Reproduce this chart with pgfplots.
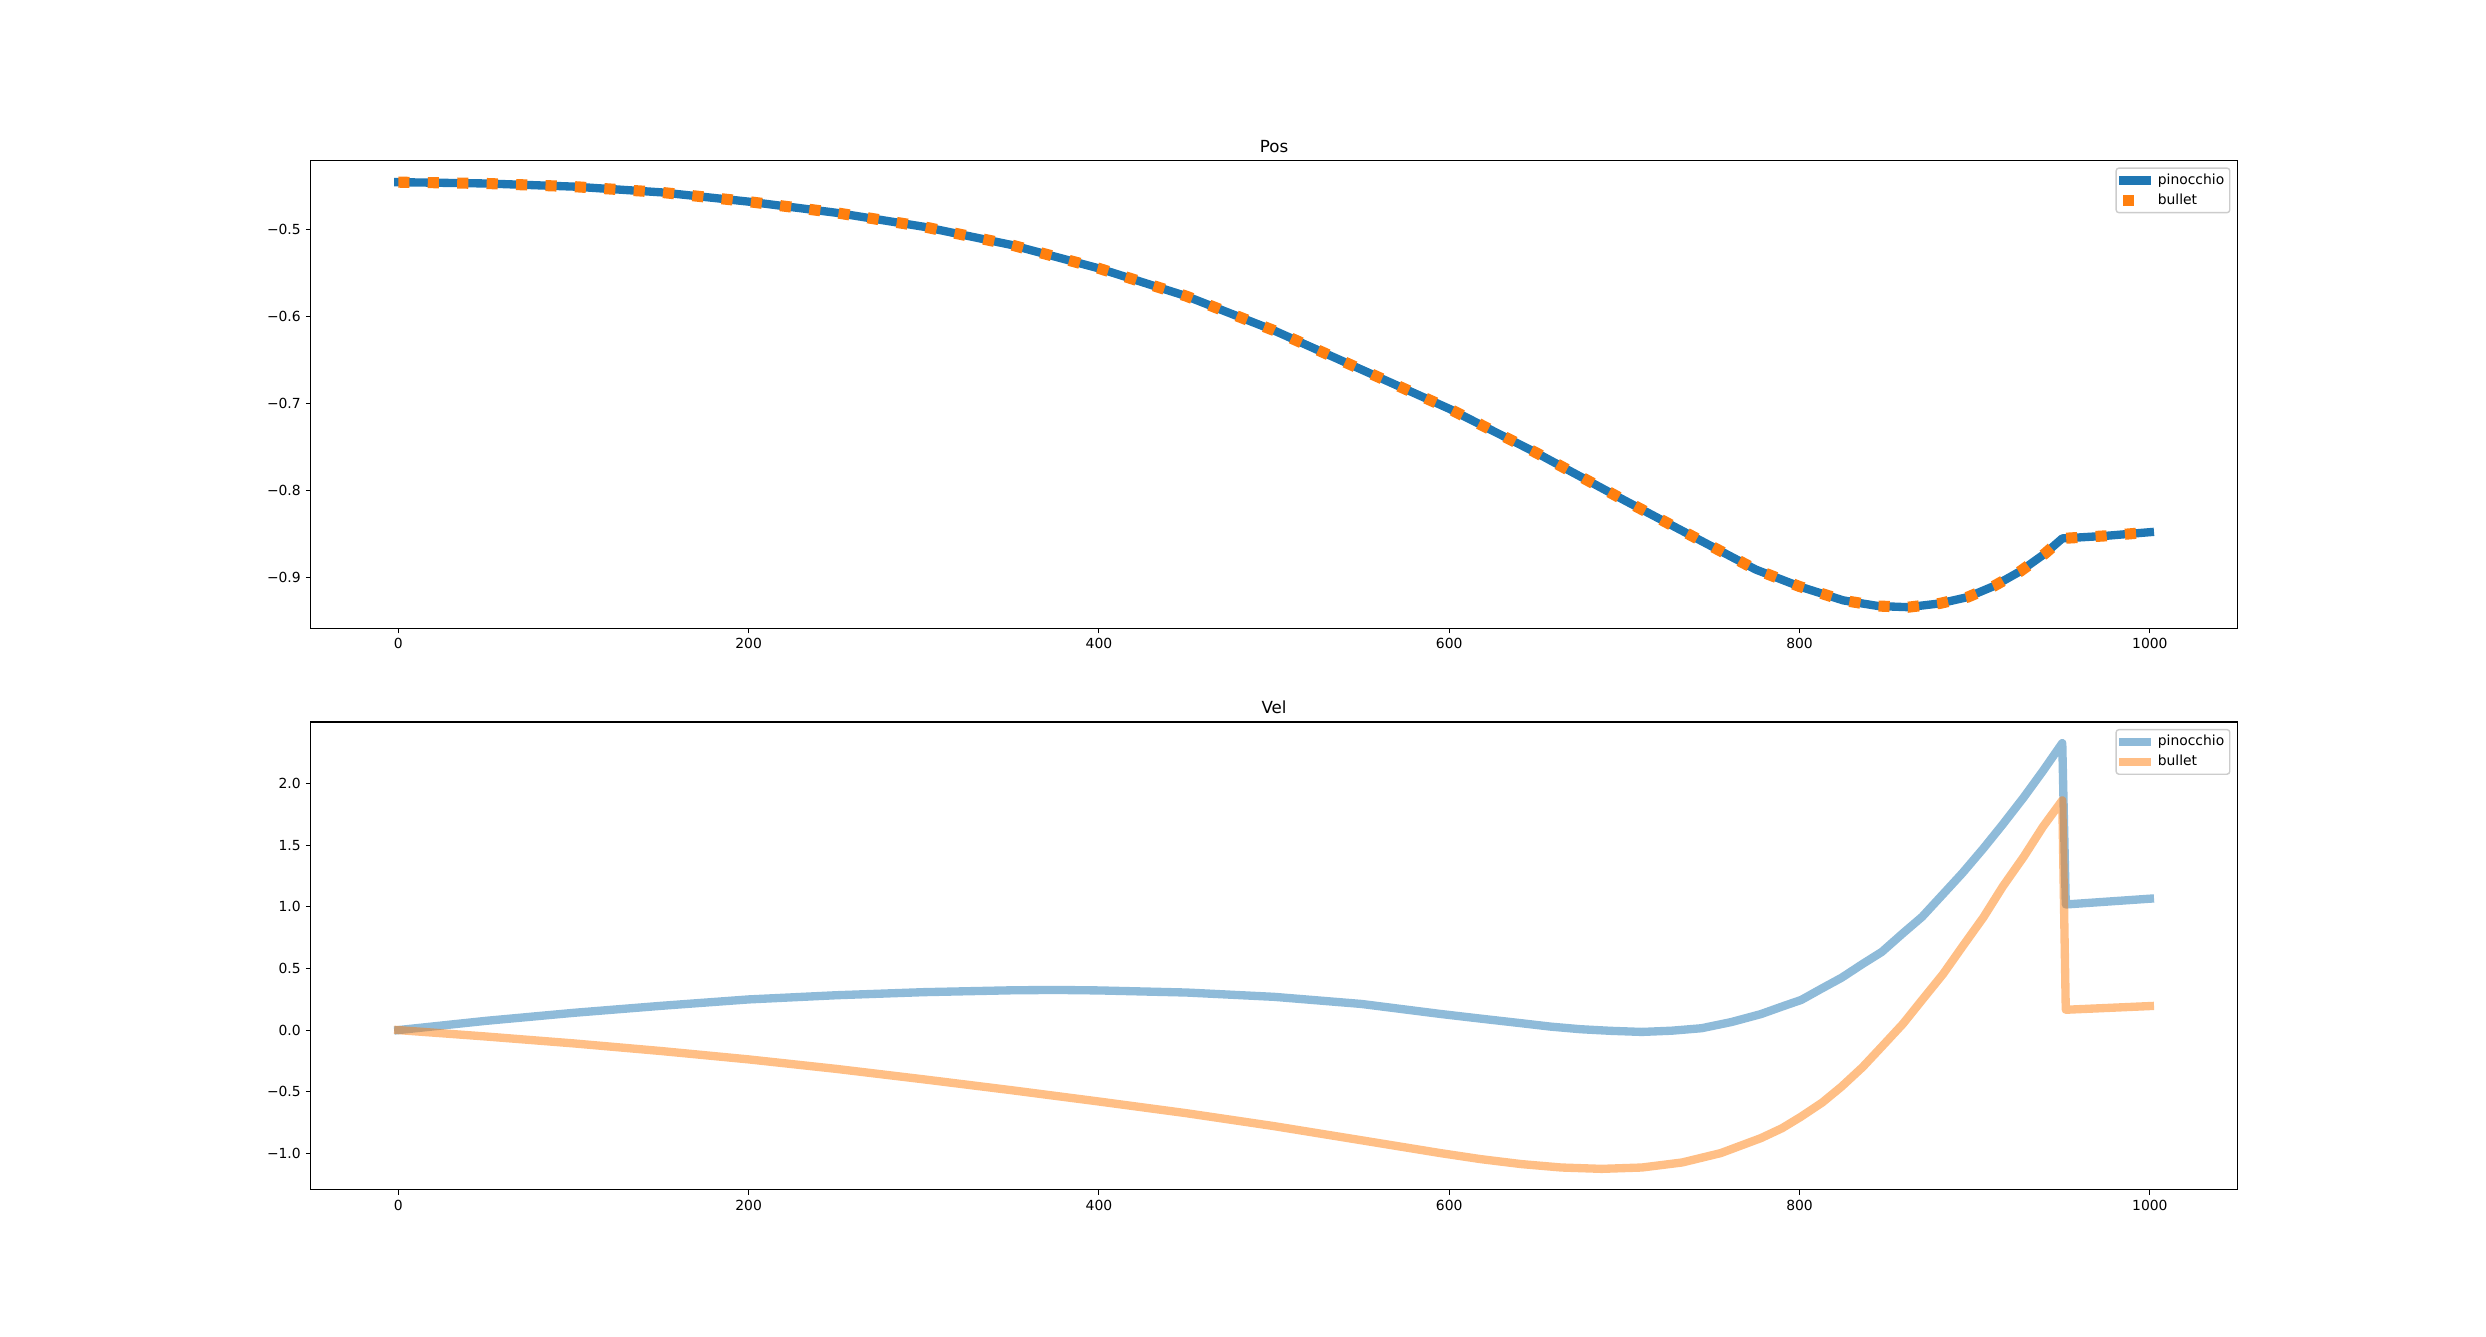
\documentclass[border=0pt]{standalone}
\usepackage{fontspec}
\setmainfont{DejaVu Sans}
\usepackage{pgfplots}
\usepackage{pgfplotstable}
\pgfplotsset{compat=1.18}

\definecolor{tabblue}{HTML}{1F77B4}
\definecolor{taborange}{HTML}{FF7F0E}
\definecolor{legedge}{rgb}{0.8,0.8,0.8}

% joint position (pinocchio and bullet give the same curve)
\pgfplotstableread{
x     pin      bul
0    -0.4453  -0.4453
50   -0.4468  -0.4468
100  -0.4504  -0.4504
150  -0.4570  -0.4570
200  -0.4677  -0.4677
250  -0.4805  -0.4805
300  -0.4966  -0.4966
350  -0.5175  -0.5175
400  -0.5445  -0.5445
450  -0.5765  -0.5765
500  -0.6160  -0.6160
550  -0.6610  -0.6610
600  -0.7060  -0.7060
650  -0.7570  -0.7570
700  -0.8113  -0.8113
750  -0.8645  -0.8645
775  -0.8910  -0.8910
800  -0.9105  -0.9105
825  -0.9265  -0.9265
845  -0.9330  -0.9330
862  -0.9343  -0.9343
880  -0.9300  -0.9300
896  -0.9227  -0.9227
911  -0.9100  -0.9100
926  -0.8930  -0.8930
940  -0.8728  -0.8728
950  -0.8552  -0.8552
975  -0.8522  -0.8522
1000 -0.8480  -0.8480
}\postable

% joint velocity, pinocchio
\pgfplotstableread{
x    v
0    0.000
50   0.075
100  0.140
150  0.197
200  0.249
250  0.283
300  0.308
350  0.323
375  0.326
400  0.322
450  0.305
500  0.270
550  0.212
595  0.131
618  0.093
641  0.056
658  0.028
675  0.007
692 -0.006
710 -0.015
727 -0.005
744  0.015
761  0.065
778  0.130
790  0.191
801  0.245
813  0.340
824  0.425
836  0.537
847  0.635
859  0.786
870  0.920
882  1.105
893  1.275
905  1.476
916  1.670
928  1.890
939  2.105
950  2.330
952  1.020
1000 1.067
}\velpin

% joint velocity, bullet
\pgfplotstableread{
x    v
0    0.000
50  -0.052
100 -0.108
150 -0.170
200 -0.238
250 -0.315
300 -0.400
350 -0.488
400 -0.580
450 -0.675
500 -0.780
550 -0.895
595 -0.999
618 -1.048
641 -1.088
664 -1.116
687 -1.127
710 -1.116
733 -1.075
755 -0.999
778 -0.877
790 -0.797
801 -0.702
813 -0.588
824 -0.459
836 -0.301
847 -0.134
859  0.050
870  0.245
882  0.456
893  0.678
905  0.916
916  1.165
928  1.408
939  1.652
950  1.865
952  0.165
1000 0.195
}\velbul

\pgfplotsset{
  mpl/.style={
    scale only axis, width=1387.19bp, height=336.92bp,
    xmin=-50, xmax=1050,
    xtick={0,200,...,1000},
    xticklabels={0,200,400,600,800,1000},
    tick pos=left,
    tick align=outside,
    major tick length=3.5bp,
    axis line style={line width=0.8bp},
    tick style={line width=0.8bp, black},
    ticklabel style={font=\fontsize{10bp}{12bp}\selectfont, inner sep=0pt},
    xticklabel shift=3.5bp, yticklabel shift=3.5bp,
    every axis title/.style={font=\fontsize{12bp}{14bp}\selectfont, anchor=base, at={(0.5,1)}, yshift=6bp, inner sep=0pt},
    legend cell align=left,
    legend image code/.code={\draw[##1, overlay] (3bp,0bp) -- (20bp,0bp); \path[draw=none] (2bp,0bp) -- (20bp,0bp);},
    legend style={
      at={(1,1)}, anchor=north east, xshift=-5bp, yshift=-5bp,
      draw=legedge, line width=1bp, rounded corners=2bp, fill=white,
      font=\fontsize{10bp}{12bp}\selectfont,
      inner xsep=4bp, inner ysep=4bp, row sep=4.7bp,
      nodes={inner xsep=0bp, inner ysep=0bp, text height=7.5bp, text depth=2.2bp},
      /tikz/every odd column/.style={column sep=8bp},
    },
  },
}

\begin{document}
\begin{tikzpicture}
\useasboundingbox (0,0) rectangle (1789.92bp,962.64bp);

\begin{axis}[mpl,
  at={(223.74bp,510.19bp)}, anchor=south west,
  title={Pos},
  ymin=-0.9587, ymax=-0.4203,
  ytick={-0.9,-0.8,-0.7,-0.6,-0.5},
  yticklabels={−0.9,−0.8,−0.7,−0.6,−0.5},
]
\addplot[tabblue, line width=6bp, line cap=rect, line join=round] table[x=x, y=pin] {\postable};
\addlegendentry{pinocchio}
\addplot[taborange, line width=8bp, line cap=butt, dash pattern=on 8bp off 13.2bp] table[x=x, y=bul] {\postable};
\addlegendentry{bullet}
\end{axis}

\begin{axis}[mpl,
  at={(223.74bp,105.89bp)}, anchor=south west,
  title={Vel},
  ymin=-1.298, ymax=2.502,
  ytick={-1,-0.5,0,0.5,1,1.5,2},
  yticklabels={−1.0,−0.5,0.0,0.5,1.0,1.5,2.0},
]
\addplot[tabblue, draw opacity=0.5, line width=6bp, line cap=rect, line join=round] table[x=x, y=v] {\velpin};
\addlegendentry{pinocchio}
\addplot[taborange, draw opacity=0.5, line width=6bp, line cap=rect, line join=round] table[x=x, y=v] {\velbul};
\addlegendentry{bullet}
\end{axis}
\end{tikzpicture}
\end{document}
